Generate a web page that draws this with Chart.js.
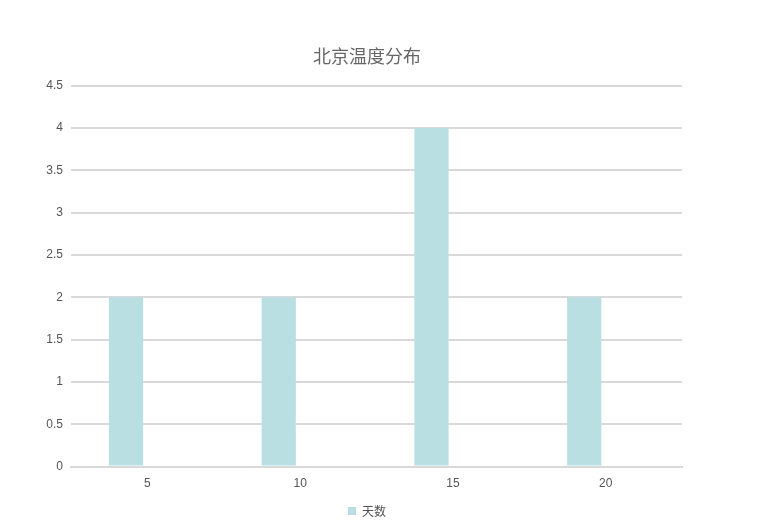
<!DOCTYPE html>
<html>
<head>
<meta charset="utf-8">
<script src="https://cdn.jsdelivr.net/npm/chart.js@4"></script>
<style>
  html, body { margin: 0; padding: 0; background: #fff; }
  #wrap { width: 760px; height: 527px; }
</style>
</head>
<body>
<div id="wrap"><canvas id="grafico"></canvas></div>
<script>
// dados do gráfico
const temperaturas = ['5', '10', '15', '20'];
const dias = [2, 2, 4, 2];
const vazio = [null, null, null, null]; // série vazia só para deslocar a barra
const ticksY = [0, 0.5, 1, 1.5, 2, 2.5, 3, 3.5, 4, 4.5];

const fonte = "'Liberation Sans', Arial, sans-serif";

const data = {
  labels: temperaturas,
  datasets: [{
    label: '天数',
    data: dias,
    backgroundColor: '#badfe3',
    barPercentage: 0.8,
    categoryPercentage: 0.56
  }, {
    label: '',
    data: vazio,
    backgroundColor: 'rgba(0,0,0,0)',
    barPercentage: 0.8,
    categoryPercentage: 0.56
  }]
};

const config = {
  type: 'bar',
  data: data,
  options: {
    responsive: true,
    maintainAspectRatio: false,
    animation: false,
    layout: { padding: { left: 0, right: 26, top: 27, bottom: 0 } },
    plugins: {
      title: {
        display: true,
        text: '北京温度分布',
        color: '#666',
        font: { family: "'Noto Sans CJK SC', sans-serif", size: 18, weight: 'normal' },
        padding: { top: 18, bottom: 19 }
      },
      legend: {
        position: 'bottom',
        labels: {
          filter: item => item.datasetIndex === 0,
          boxWidth: 8,
          boxHeight: 8,
          color: '#555',
          padding: 4,
          font: { family: "'Noto Sans CJK SC', sans-serif", size: 12 }
        }
      },
      tooltip: { enabled: false }
    },
    scales: {
      x: {
        grid: { display: false, drawTicks: false },
        border: { display: true, color: '#d9d9d9', width: 2 },
        ticks: { color: '#555', font: { family: fonte, size: 12 }, padding: 10 }
      },
      y: {
        min: 0,
        max: 4.5,
        afterBuildTicks: s => { s.ticks = ticksY.map(v => ({ value: v })); },
        afterFit: s => { s.width = 71; },
        grid: { color: '#d9d9d9', lineWidth: 2, drawTicks: false },
        border: { display: false },
        ticks: {
          color: '#555',
          font: { family: fonte, size: 12 },
          padding: 8,
          callback: v => String(v)
        }
      },
      direita: {
        position: 'right',
        display: true,
        afterFit: s => { s.width = 52; },
        grid: { display: false, drawTicks: false },
        border: { display: false },
        ticks: { display: false }
      }
    }
  }
};

const ctx = document.getElementById('grafico').getContext('2d');
new Chart(ctx, config);
</script>
</body>
</html>
